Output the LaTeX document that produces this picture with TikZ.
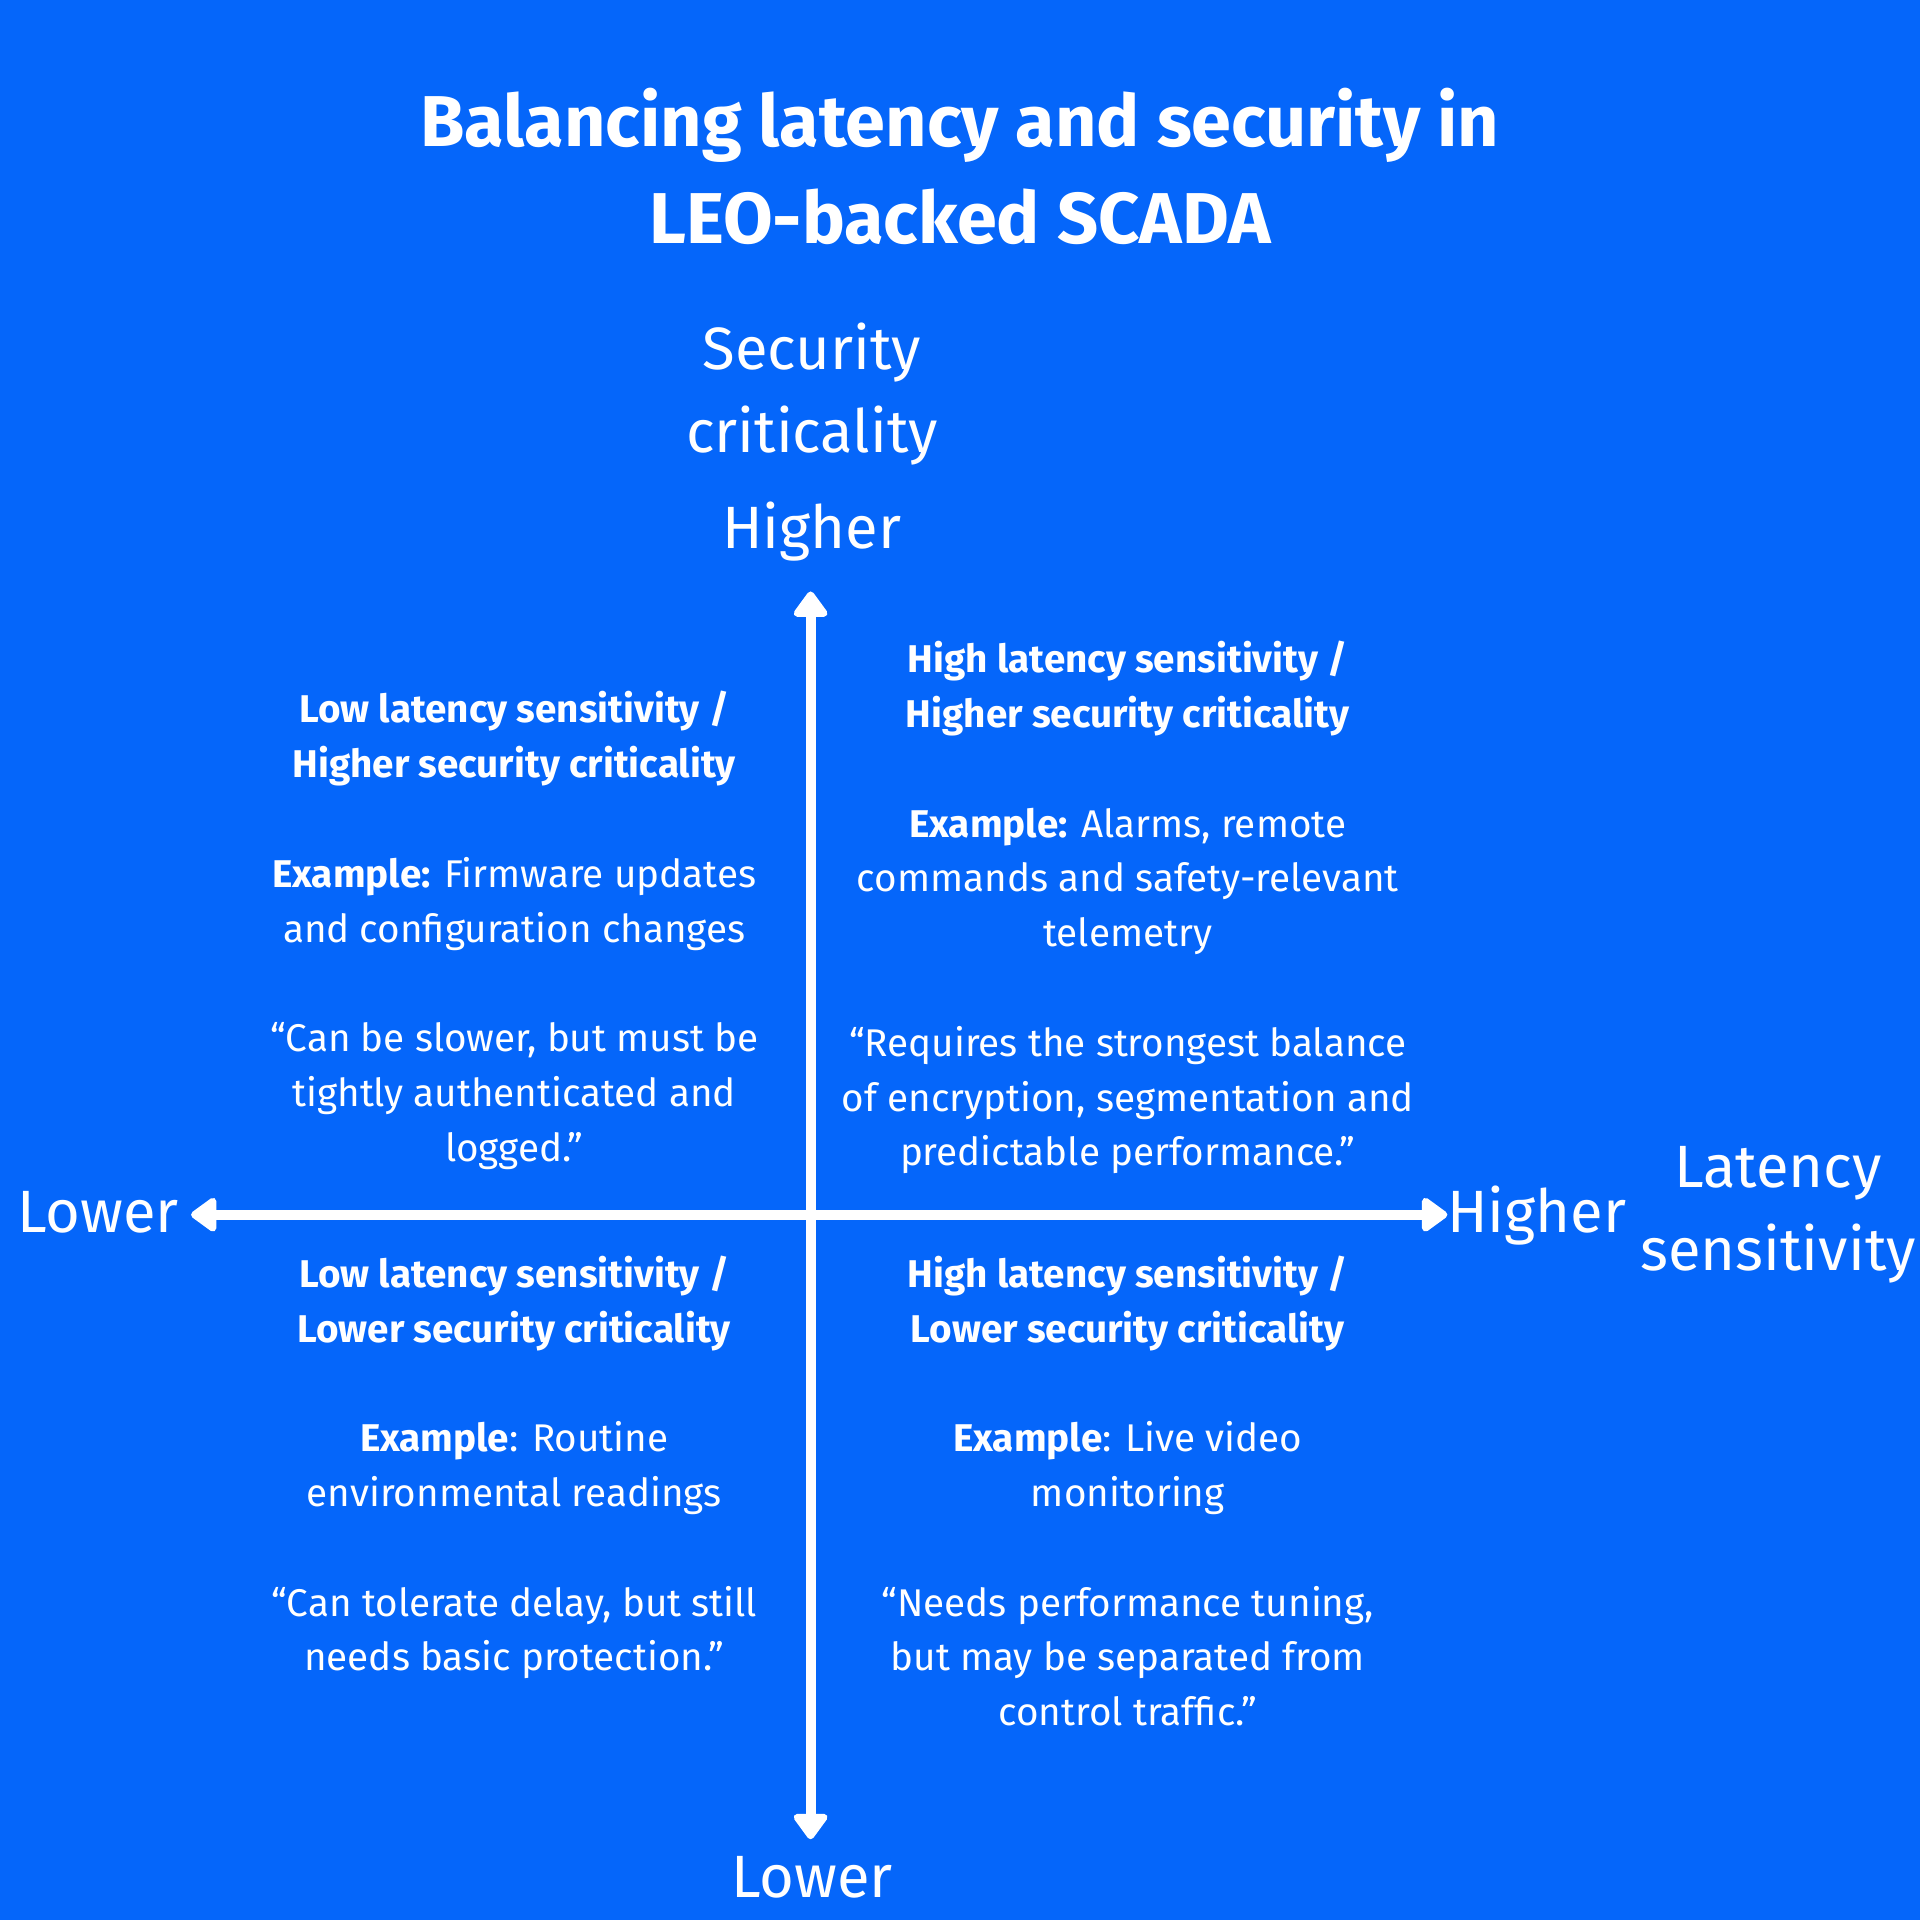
\documentclass[tikz,border=0pt]{standalone}
\usepackage{fontspec}
\setmainfont{Fira Sans}
\usetikzlibrary{arrows.meta,positioning}
\definecolor{bgblue}{RGB}{5,102,250}

\begin{document}
\begin{tikzpicture}[x=0.01225cm,y=-0.01225cm,
    every node/.style={text=white,inner sep=0pt},
    axis/.style={draw=white,line width=2.8pt,-{Triangle[round,length=8pt,width=11pt]}},
    title/.style={font=\fontsize{20.5}{27.8}\selectfont\bfseries,align=center},
    axlabel/.style={font=\fontsize{17}{23.5}\selectfont\mdseries,align=center},
    quad/.style={font=\fontsize{11}{15.6}\selectfont,align=center,anchor=north}]

    % background
    \fill[bgblue] (0,0) rectangle (1568,1568);
    \useasboundingbox (0,0) rectangle (1568,1568);

    % title
    \node[title] (title) at (784,136) {Balancing latency and security in\\LEO-backed SCADA};

    % axes
    \coordinate (o) at (662,992);
    \coordinate (top) at (662,483);
    \coordinate (bot) at (662,1502);
    \coordinate (left) at (156,992);
    \coordinate (right) at (1182,992);
    \draw[axis] (o) -- (top);
    \draw[axis] (o) -- (bot);
    \draw[axis] (o) -- (left);
    \draw[axis] (o) -- (right);

    % axis labels
    \node[axlabel] (ytitle) at (663,322) {Security\\criticality};
    \node[axlabel] (yhi) at (663,434) {Higher};
    \node[axlabel] (ylo) at (663,1533) {Lower};
    \node[axlabel] (xlo) at (80,990) {Lower};
    \node[axlabel] (xhi) at (1255,993) {Higher};
    \node[axlabel] (xtitle) at (1452,992) {Latency\\sensitivity};

    % quadrants
    \node[quad] (tl) at (420,564) {\textbf{Low latency sensitivity /}\\\textbf{Higher security criticality}\\[15.6pt]
        \textbf{Example:} Firmware updates\\and configuration changes\\[15.6pt]
        “Can be slower, but must be\\tightly authenticated and\\logged.”};
    \node[quad] (tr) at (921,523) {\textbf{High latency sensitivity /}\\\textbf{Higher security criticality}\\[15.6pt]
        \textbf{Example:} Alarms, remote\\commands and safety-relevant\\telemetry\\[15.6pt]
        “Requires the strongest balance\\of encryption, segmentation and\\predictable performance.”};
    \node[quad] (bl) at (420,1025) {\textbf{Low latency sensitivity /}\\\textbf{Lower security criticality}\\[15.6pt]
        \textbf{Example}: Routine\\environmental readings\\[15.6pt]
        “Can tolerate delay, but still\\needs basic protection.”};
    \node[quad] (br) at (921,1025) {\textbf{High latency sensitivity /}\\\textbf{Lower security criticality}\\[15.6pt]
        \textbf{Example}: Live video\\monitoring\\[15.6pt]
        “Needs performance tuning,\\but may be separated from\\control traffic.”};
\end{tikzpicture}
\end{document}
